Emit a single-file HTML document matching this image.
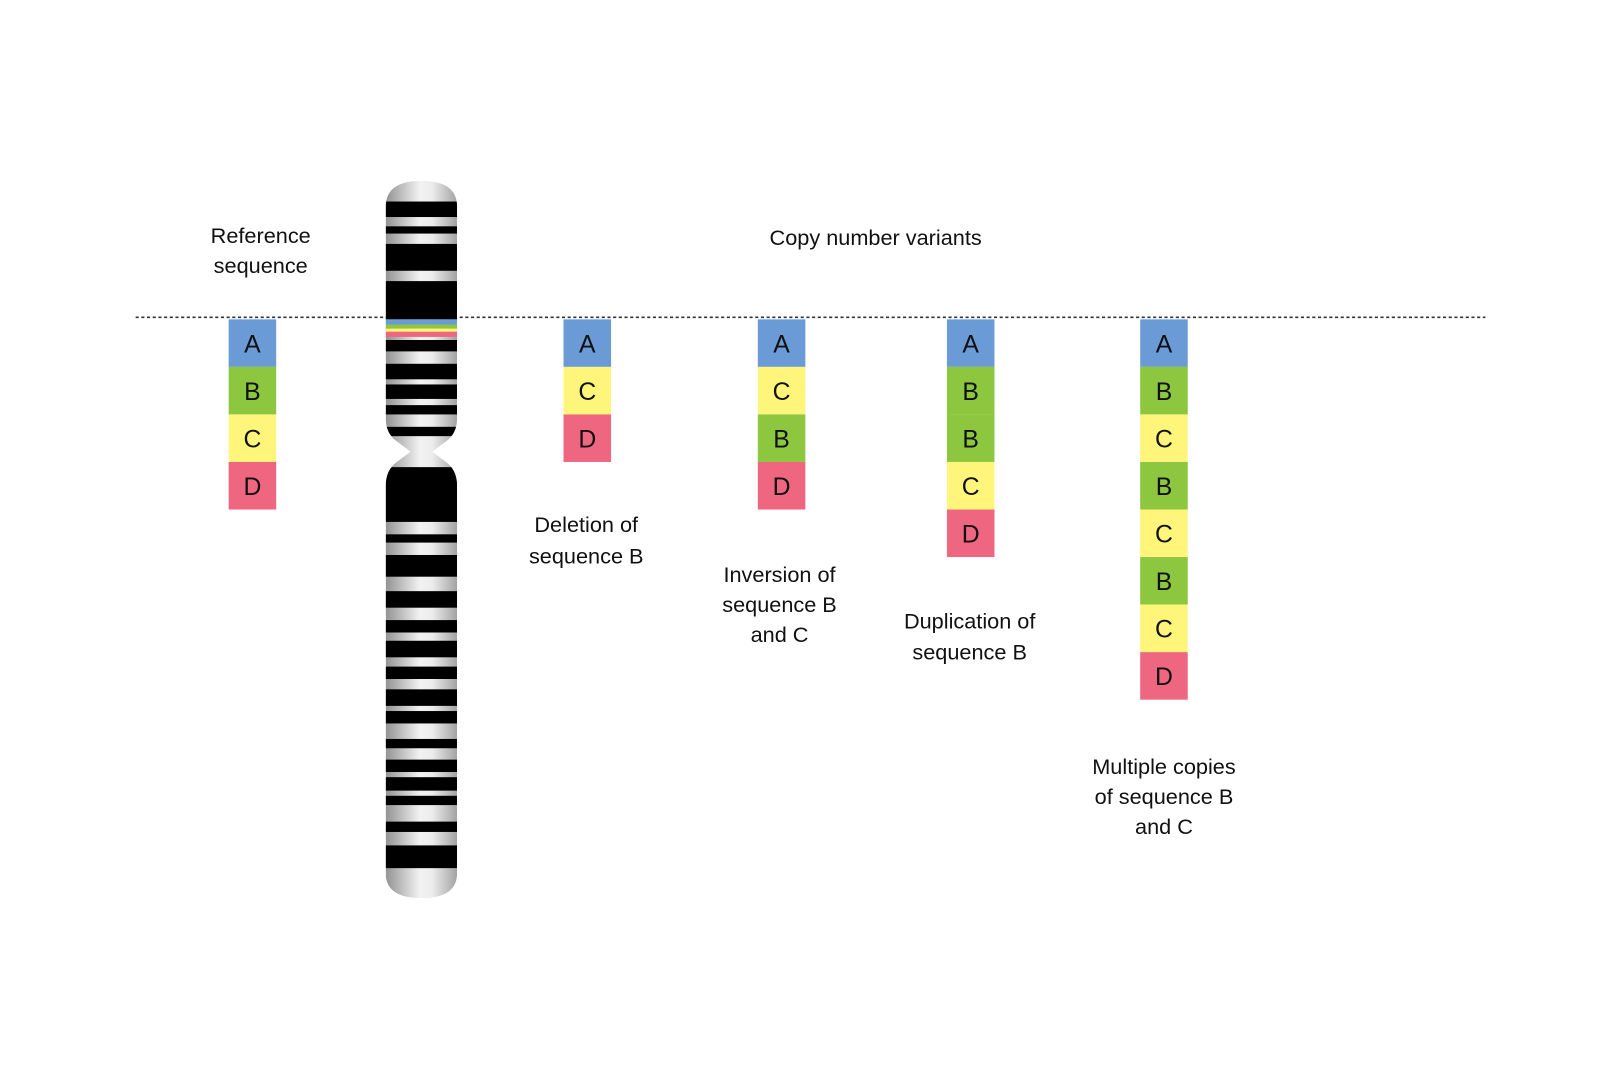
<!DOCTYPE html>
<html><head><meta charset="utf-8"><style>
html,body{margin:0;padding:0;background:#fff;}
svg{display:block;}
text{font-family:"Liberation Sans",sans-serif;fill:#111;}
</style></head><body>
<svg width="1620" height="1080" viewBox="0 0 1567 1045" xmlns="http://www.w3.org/2000/svg">
<defs>
<linearGradient id="g" x1="0" x2="1" y1="0" y2="0">
<stop offset="0" stop-color="#8a8a8a"/><stop offset="0.45" stop-color="#f2f2f2"/><stop offset="0.6" stop-color="#ececec"/><stop offset="1" stop-color="#8a8a8a"/>
</linearGradient>
<clipPath id="cp"><path d="M373,200 Q373,175 407.5,175 Q442,175 442,200 L442,405 Q442,420 430,428 L418,437 L430,446 Q442,454 442,470 L442,845 Q442,869 407.5,869 Q373,869 373,845 L373,470 Q373,454 385,446 L397,437 L385,428 Q373,420 373,405 Z"/></clipPath>
</defs>
<line x1="131" y1="307" x2="1437" y2="307" stroke="#333" stroke-width="1.6" stroke-dasharray="3,2.5"/>
<g clip-path="url(#cp)">
<rect x="370" y="170" width="80" height="705" fill="url(#g)"/>
<g fill="#000">
<rect x="370" y="195" width="80" height="15"/>
<rect x="370" y="219" width="80" height="7"/>
<rect x="370" y="236" width="80" height="26"/>
<rect x="370" y="272" width="80" height="37"/>
<rect x="370" y="329" width="80" height="11"/>
<rect x="370" y="352" width="80" height="15"/>
<rect x="370" y="372" width="80" height="14"/>
<rect x="370" y="392" width="80" height="9"/>
<rect x="370" y="413" width="80" height="9"/>
<rect x="370" y="452" width="80" height="53"/>
<rect x="370" y="517" width="80" height="8"/>
<rect x="370" y="537" width="80" height="21"/>
<rect x="370" y="572" width="80" height="16"/>
<rect x="370" y="600" width="80" height="12"/>
<rect x="370" y="620" width="80" height="16"/>
<rect x="370" y="645" width="80" height="12"/>
<rect x="370" y="667" width="80" height="16"/>
<rect x="370" y="688" width="80" height="12"/>
<rect x="370" y="715" width="80" height="9"/>
<rect x="370" y="735" width="80" height="12"/>
<rect x="370" y="752" width="80" height="13"/>
<rect x="370" y="770" width="80" height="9"/>
<rect x="370" y="795" width="80" height="10"/>
<rect x="370" y="818" width="80" height="22"/>
</g>
<rect x="370" y="309" width="80" height="5" fill="#6b9bd6"/>
<rect x="370" y="314" width="80" height="4" fill="#8dc63f"/>
<rect x="370" y="318" width="80" height="3" fill="#fff57a"/>
<rect x="370" y="321" width="80" height="5" fill="#ef6681"/>
</g>
<g font-size="24" text-anchor="middle">
<rect x="221" y="309" width="46" height="46" fill="#6b9bd6"/><text x="244" y="341">A</text>
<rect x="221" y="355" width="46" height="46" fill="#8dc63f"/><text x="244" y="387">B</text>
<rect x="221" y="401" width="46" height="46" fill="#fff57a"/><text x="244" y="433">C</text>
<rect x="221" y="447" width="46" height="46" fill="#ef6681"/><text x="244" y="479">D</text>
<rect x="545" y="309" width="46" height="46" fill="#6b9bd6"/><text x="568" y="341">A</text>
<rect x="545" y="355" width="46" height="46" fill="#fff57a"/><text x="568" y="387">C</text>
<rect x="545" y="401" width="46" height="46" fill="#ef6681"/><text x="568" y="433">D</text>
<rect x="733" y="309" width="46" height="46" fill="#6b9bd6"/><text x="756" y="341">A</text>
<rect x="733" y="355" width="46" height="46" fill="#fff57a"/><text x="756" y="387">C</text>
<rect x="733" y="401" width="46" height="46" fill="#8dc63f"/><text x="756" y="433">B</text>
<rect x="733" y="447" width="46" height="46" fill="#ef6681"/><text x="756" y="479">D</text>
<rect x="916" y="309" width="46" height="46" fill="#6b9bd6"/><text x="939" y="341">A</text>
<rect x="916" y="355" width="46" height="46" fill="#8dc63f"/><text x="939" y="387">B</text>
<rect x="916" y="401" width="46" height="46" fill="#8dc63f"/><text x="939" y="433">B</text>
<rect x="916" y="447" width="46" height="46" fill="#fff57a"/><text x="939" y="479">C</text>
<rect x="916" y="493" width="46" height="46" fill="#ef6681"/><text x="939" y="525">D</text>
<rect x="1103" y="309" width="46" height="46" fill="#6b9bd6"/><text x="1126" y="341">A</text>
<rect x="1103" y="355" width="46" height="46" fill="#8dc63f"/><text x="1126" y="387">B</text>
<rect x="1103" y="401" width="46" height="46" fill="#fff57a"/><text x="1126" y="433">C</text>
<rect x="1103" y="447" width="46" height="46" fill="#8dc63f"/><text x="1126" y="479">B</text>
<rect x="1103" y="493" width="46" height="46" fill="#fff57a"/><text x="1126" y="525">C</text>
<rect x="1103" y="539" width="46" height="46" fill="#8dc63f"/><text x="1126" y="571">B</text>
<rect x="1103" y="585" width="46" height="46" fill="#fff57a"/><text x="1126" y="617">C</text>
<rect x="1103" y="631" width="46" height="46" fill="#ef6681"/><text x="1126" y="663">D</text>
</g>
<g font-size="21" text-anchor="middle" fill="#222">
<text x="252" y="235">Reference</text><text x="252" y="264">sequence</text>
<text x="847" y="237">Copy number variants</text>
<text x="567" y="515">Deletion of</text><text x="567" y="545">sequence B</text>
<text x="754" y="563">Inversion of</text><text x="754" y="592">sequence B</text><text x="754" y="621">and C</text>
<text x="938" y="608">Duplication of</text><text x="938" y="638">sequence B</text>
<text x="1126" y="749">Multiple copies</text><text x="1126" y="778">of sequence B</text><text x="1126" y="807">and C</text>
</g>
</svg>
</body></html>
